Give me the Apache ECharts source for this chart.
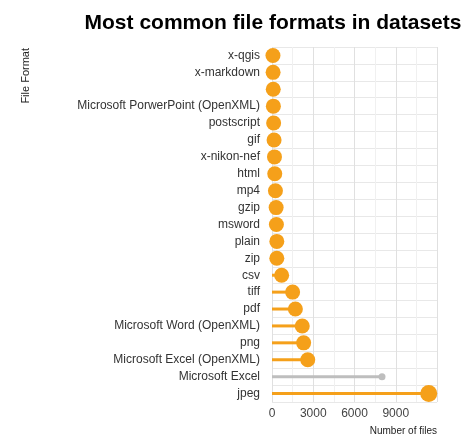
<!DOCTYPE html>
<html><head><meta charset="utf-8">
<script src="https://cdn.jsdelivr.net/npm/echarts@6/dist/echarts.min.js"></script>
<style>html,body{margin:0;padding:0;background:#fff}#c{width:474px;height:445px}</style>
</head><body><div id="c"></div>
<script>
const categories = ["x-qgis","x-markdown","","Microsoft PorwerPoint (OpenXML)","postscript","gif","x-nikon-nef","html","mp4","gzip","msword","plain","zip","csv","tiff","pdf","Microsoft Word (OpenXML)","png","Microsoft Excel (OpenXML)","Microsoft Excel","jpeg"];
const counts = [70,80,90,100,120,150,180,200,250,300,320,350,350,700,1500,1700,2200,2300,2600,8000,11400];
const highlighted = [1,1,1,1,1,1,1,1,1,1,1,1,1,1,1,1,1,1,1,0,1];
const cats = categories.slice().reverse();
const vals = counts.slice().reverse();
const hl = highlighted.slice().reverse();
const chart = echarts.init(document.getElementById('c'));
const orange = '#F5A01A', grey = '#BEBEBE';
chart.setOption({
  animation:false,
  title:{text:'Most common file formats in datasets',left:268,top:8,textAlign:'center',textStyle:{fontFamily:'Liberation Sans',fontWeight:'bold',fontSize:21,color:'#000'}},
  graphic:[{type:'text',left:20,top:48,rotation:Math.PI/2,style:{text:'File Format',font:'11px Liberation Sans',fill:'#222'}, x:18, y:112}],
  grid:{left:272,right:37,top:47,bottom:43},
  xAxis:{type:'value',min:0,max:12000,interval:3000,
    name:'Number of files',nameLocation:'end',nameGap:0,
    nameTextStyle:{fontFamily:'Liberation Sans',fontSize:10,color:'#222',align:'right',verticalAlign:'top',padding:[24,0,0,0]},
    axisLine:{show:false},axisTick:{show:false},
    axisLabel:{fontFamily:'Liberation Sans',fontSize:12,color:'#444',margin:6,formatter:v=>v===12000?'':String(v)},
    splitLine:{lineStyle:{color:'#e0e0e0'}},
    minorTick:{show:false,splitNumber:2},minorSplitLine:{show:true,lineStyle:{color:'#f0f0f0'}}},
  yAxis:{type:'category',data:cats,axisLine:{show:false},axisTick:{show:false},
    axisLabel:{fontFamily:'Liberation Sans',fontSize:12,color:'#333',margin:12},
    splitLine:{show:true,lineStyle:{color:'#e8e8e8'}}},
  series:[
    {type:'bar',barWidth:3,silent:true,data:vals.map((v,i)=>({value:v,itemStyle:{color:hl[i]?orange:grey}}))},
    {type:'scatter',clip:false,z:5,data:vals.map((v,i)=>({value:v,symbolSize:hl[i]?(i===0?17:15):7,itemStyle:{color:hl[i]?orange:grey,opacity:1}}))}
  ]
});
</script></body></html>
